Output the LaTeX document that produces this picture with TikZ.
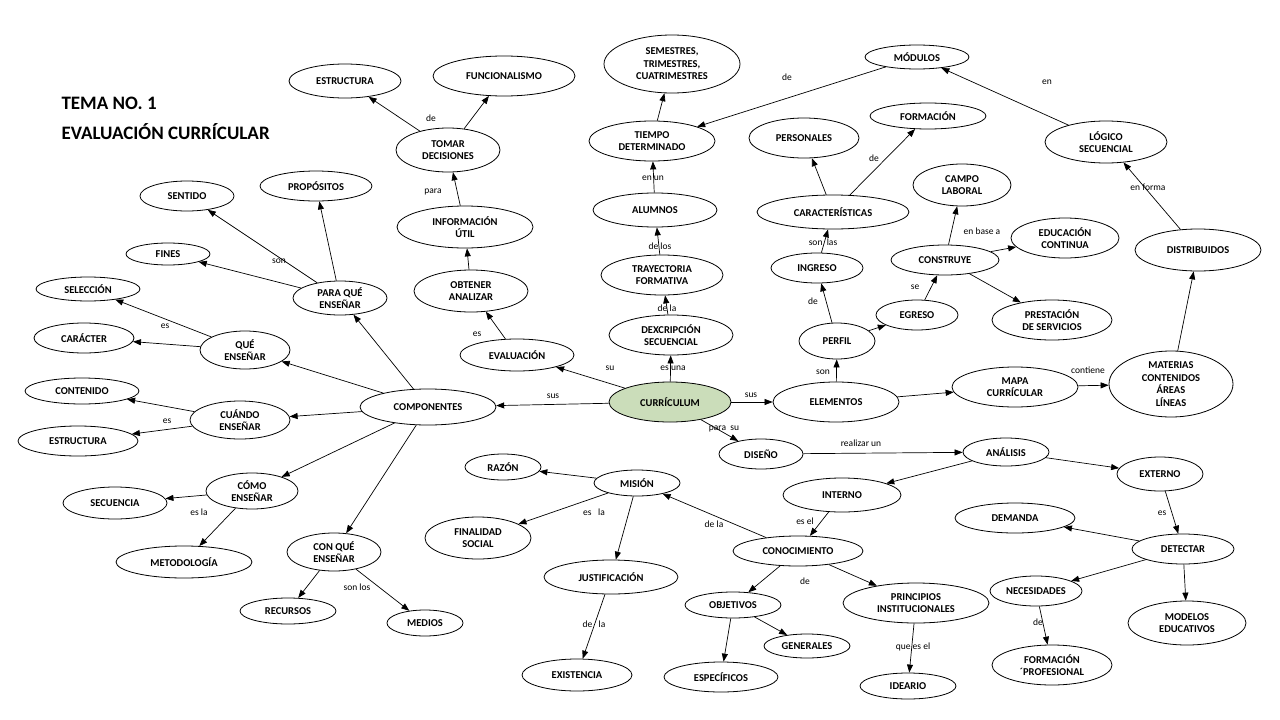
\documentclass[tikz,border=0pt]{standalone}
\usepackage{fontspec}
\setmainfont{Carlito}
\usetikzlibrary{shapes.geometric,arrows.meta}
\begin{document}
\begin{tikzpicture}[x=1pt,y=-1pt,
 el/.style={ellipse,draw,line width=0.8pt,inner sep=0pt,align=center,font=\bfseries\fontsize{10.5}{12.5}\selectfont},
 ar/.style={-{Triangle[length=8pt,width=6pt]},line width=0.7pt},
 lb/.style={font=\fontsize{9.5}{10}\selectfont,inner sep=1pt}]
\useasboundingbox (0,0) rectangle (1280,720);
\fill[white] (0,0) rectangle (1280,720);
\node[anchor=west,align=left,font=\bfseries\fontsize{19}{30}\selectfont] (title) at (58,118) {TEMA NO. 1\\EVALUACIÓN CURRÍCULAR};
\newcommand\nd[6]{\node[el,minimum width=#4pt,minimum height=#5pt] (#1) at (#2,#3) {#6};}
\nd{estructuraA}{345}{81}{112}{34}{ESTRUCTURA}
\nd{funcionalismo}{504}{76}{142}{40}{FUNCIONALISMO}
\nd{tomar}{448}{150}{104}{44}{TOMAR\\DECISIONES}
\nd{semestres}{672}{64}{136}{58}{SEMESTRES,\\TRIMESTRES,\\CUATRIMESTRES}
\nd{modulos}{917}{57}{104}{24}{MÓDULOS}
\nd{tiempo}{652}{141}{126}{40}{TIEMPO\\DETERMINADO}
\nd{personales}{804}{138}{110}{40}{PERSONALES}
\nd{formacion}{928}{116}{116}{26}{FORMACIÓN}
\nd{logico}{1106}{142}{122}{42}{LÓGICO\\SECUENCIAL}
\nd{sentido}{187}{196}{94}{30}{SENTIDO}
\nd{propositos}{316}{186}{112}{30}{PROPÓSITOS}
\nd{info}{465}{227}{136}{42}{INFORMACIÓN\\ÚTIL}
\nd{alumnos}{655}{210}{124}{34}{ALUMNOS}
\nd{caracteristicas}{833}{212}{152}{34}{CARACTERÍSTICAS}
\nd{campo}{962}{185}{98}{42}{CAMPO\\LABORAL}
\nd{fines}{168}{254}{84}{22}{FINES}
\nd{educacion}{1065}{238}{108}{40}{EDUCACIÓN\\CONTINUA}
\nd{distribuidos}{1198}{250}{126}{42}{DISTRIBUIDOS}
\nd{ingreso}{817}{268}{92}{30}{INGRESO}
\nd{construye}{945}{260}{108}{30}{CONSTRUYE}
\nd{trayectoria}{662}{275}{122}{40}{TRAYECTORIA\\FORMATIVA}
\nd{obtener}{471}{291}{114}{42}{OBTENER\\ANALIZAR}
\nd{para}{340}{298}{94}{34}{PARA QUÉ\\ENSEÑAR}
\nd{seleccion}{88}{289}{104}{24}{SELECCIÓN}
\nd{egreso}{917}{315}{82}{30}{EGRESO}
\nd{prestacion}{1052}{320}{120}{40}{PRESTACIÓN\\DE SERVICIOS}
\nd{caracter}{84}{338}{100}{30}{CARÁCTER}
\nd{que}{245}{350}{90}{38}{QUÉ\\ENSEÑAR}
\nd{dexcripcion}{671}{335}{124}{40}{DEXCRIPCIÓN\\SECUENCIAL}
\nd{perfil}{837}{341}{76}{36}{PERFIL}
\nd{evaluacion}{517}{355}{114}{32}{EVALUACIÓN}
\nd{contenido}{82}{391}{114}{26}{CONTENIDO}
\nd{cuando}{240}{420}{100}{38}{CUÁNDO\\ENSEÑAR}
\nd{componentes}{428}{407}{136}{36}{COMPONENTES}
\node[el,fill={rgb,255:red,203;green,221;blue,186},minimum width=122pt,minimum height=40pt] (curriculum) at (670,402) {CURRÍCULUM};
\nd{elementos}{836}{402}{126}{40}{ELEMENTOS}
\nd{mapa}{1015}{387}{126}{40}{MAPA\\CURRÍCULAR}
\nd{materias}{1171}{384}{124}{66}{MATERIAS\\CONTENIDOS\\ÁREAS\\LÍNEAS}
\nd{estructuraB}{78}{441}{120}{30}{ESTRUCTURA}
\nd{diseno}{761}{454}{84}{30}{DISEÑO}
\nd{analisis}{1006}{452}{86}{28}{ANÁLISIS}
\nd{externo}{1160}{474}{86}{34}{EXTERNO}
\nd{razon}{503}{467}{76}{26}{RAZÓN}
\nd{mision}{637}{483}{86}{26}{MISIÓN}
\nd{interno}{842}{495}{118}{34}{INTERNO}
\nd{como}{252}{491}{92}{36}{CÓMO\\ENSEÑAR}
\nd{secuencia}{115}{503}{104}{32}{SECUENCIA}
\nd{demanda}{1015}{518}{120}{30}{DEMANDA}
\nd{finalidad}{478}{538}{106}{42}{FINALIDAD\\SOCIAL}
\nd{conocimiento}{798}{551}{130}{30}{CONOCIMIENTO}
\nd{detectar}{1183}{549}{102}{30}{DETECTAR}
\nd{conque}{334}{552}{94}{38}{CON QUÉ\\ENSEÑAR}
\nd{metodologia}{184}{562}{136}{32}{METODOLOGÍA}
\nd{justificacion}{611}{577}{134}{34}{JUSTIFICACIÓN}
\nd{necesidades}{1036}{591}{92}{30}{NECESIDADES}
\nd{principios}{916}{603}{146}{40}{PRINCIPIOS\\INSTITUCIONALES}
\nd{objetivos}{733}{605}{96}{26}{OBJETIVOS}
\nd{modelos}{1187}{623}{118}{44}{MODELOS\\EDUCATIVOS}
\nd{generales}{807}{646}{86}{24}{GENERALES}
\nd{recursos}{288}{611}{96}{26}{RECURSOS}
\nd{medios}{425}{623}{76}{26}{MEDIOS}
\nd{formacionprof}{1052}{665}{120}{40}{FORMACIÓN\\´PROFESIONAL}
\nd{existencia}{577}{675}{110}{32}{EXISTENCIA}
\nd{especificos}{721}{677}{114}{30}{ESPECÍFICOS}
\nd{ideario}{908}{686}{96}{26}{IDEARIO}
\foreach \a/\b in {curriculum/componentes,curriculum/evaluacion,curriculum/dexcripcion,curriculum/elementos,curriculum/diseno,
evaluacion/obtener,obtener/info,info/tomar,tomar/estructuraA,tomar/funcionalismo,dexcripcion/trayectoria,trayectoria/alumnos,
alumnos/tiempo,tiempo/semestres,modulos/tiempo,logico/modulos,distribuidos/logico,materias/distribuidos,mapa/materias,
elementos/mapa,elementos/perfil,perfil/ingreso,perfil/egreso,ingreso/caracteristicas,caracteristicas/personales,
caracteristicas/formacion,egreso/construye,construye/campo,construye/educacion,construye/prestacion,
componentes/para,componentes/que,componentes/cuando,componentes/como,componentes/conque,para/sentido,para/propositos,
para/fines,que/seleccion,que/caracter,cuando/contenido,cuando/estructuraB,como/secuencia,como/metodologia,conque/recursos,
conque/medios,diseno/analisis,analisis/interno,analisis/externo,interno/conocimiento,conocimiento/mision,conocimiento/objetivos,
conocimiento/principios,mision/razon,mision/finalidad,mision/justificacion,justificacion/existencia,objetivos/especificos,
objetivos/generales,principios/ideario,externo/detectar,detectar/demanda,detectar/necesidades,detectar/modelos,
necesidades/formacionprof}
 \draw[ar] (\a) -- (\b);
\foreach \t/\x/\y/\n in {sus/553/396/l1,su/610/368/l2,es una/673/368/l3,sus/751/395/l4,para\ \ su/724/429/l5,es/477/334/l6,
para/433/192/l7,de/431/118/l8,de la/667/308/l9,de los/660/246/l10,en un/653/178/l11,de/787/77/l12,en/1047/82/l13,
en forma/1148/187/l14,contiene/1088/370/l15,son/823/372/l16,de/813/301/l17,son\ \ las/823/242/l18,de/874/158/l19,se/915/287/l20,
en base a/982/231/l21,son/279/261/l22,es/165/326/l23,es/167/421/l24,es la/199/512/l25,son los/357/587/l26,realizar un/861/443/l27,
es el/805/521/l28,de la/714/524/l29,de/805/581/l30,es\ \ \ la/594/512/l31,de\ \ \ la/594/624/l32,que es el/913/647/l33,es/1162/513/l34,de/1038/622/l35}
 \node[lb] (\n) at (\x,\y) {\t};
\end{tikzpicture}
\end{document}
